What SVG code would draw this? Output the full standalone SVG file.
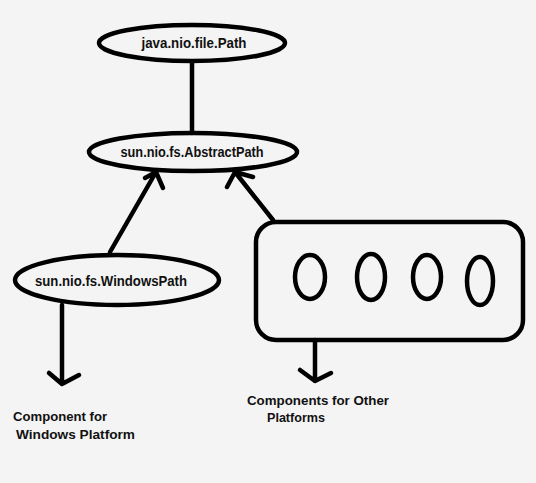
<svg xmlns="http://www.w3.org/2000/svg" width="536" height="483" viewBox="0 0 536 483">
<style>
.s{fill:none;stroke:#000;stroke-width:4.5;stroke-linecap:round;stroke-linejoin:round}
.t{font-family:"Liberation Sans",Arial,sans-serif;font-weight:bold;font-size:14px;fill:#111}
.l{font-family:"Liberation Sans",Arial,sans-serif;font-weight:bold;font-size:13px;fill:#111}
</style>
<rect width="536" height="483" fill="#f4f4f4"/>
<g id="connectors">
<line class="s" x1="192" y1="62" x2="192" y2="133"/>
<path class="s" d="M110 252 L156 172 M145 178 L156 172 L163 188"/>
<path class="s" d="M273 220 L235 172 M227 187 L235 172 L253 177"/>
<path class="s" d="M62 305 L62 384 M49 373 L62 384 L79 375"/>
<path class="s" d="M315 340 L315 381 M300 370 L315 381 L331 373"/>
</g>
<g id="path">
<ellipse class="s" cx="192" cy="43" rx="93" ry="18"/>
<text class="t" x="194" y="48" text-anchor="middle" textLength="105" lengthAdjust="spacingAndGlyphs">java.nio.file.Path</text>
</g>
<g id="abstractpath">
<ellipse class="s" cx="193" cy="152" rx="104" ry="19"/>
<text class="t" x="192" y="157" text-anchor="middle" textLength="143" lengthAdjust="spacingAndGlyphs">sun.nio.fs.AbstractPath</text>
</g>
<g id="windowspath">
<ellipse class="s" cx="117" cy="280" rx="102" ry="25"/>
<text class="t" x="111" y="286" text-anchor="middle" textLength="152" lengthAdjust="spacingAndGlyphs">sun.nio.fs.WindowsPath</text>
</g>
<g id="others">
<rect class="s" x="256" y="222" width="267" height="118" rx="20"/>
<ellipse class="s" cx="310" cy="277" rx="15" ry="22"/>
<ellipse class="s" cx="371" cy="277" rx="14" ry="23"/>
<ellipse class="s" cx="427" cy="277" rx="14" ry="22"/>
<ellipse class="s" cx="480" cy="281" rx="13" ry="24"/>
</g>
<g id="label-windows">
<text class="l" x="13" y="421" textLength="94" lengthAdjust="spacingAndGlyphs">Component for</text>
<text class="l" x="16" y="439" textLength="119" lengthAdjust="spacingAndGlyphs">Windows  Platform</text>
</g>
<g id="label-other">
<text class="l" x="247" y="405" textLength="142" lengthAdjust="spacingAndGlyphs">Components for  Other</text>
<text class="l" x="267" y="422" textLength="58" lengthAdjust="spacingAndGlyphs">Platforms</text>
</g>
</svg>
